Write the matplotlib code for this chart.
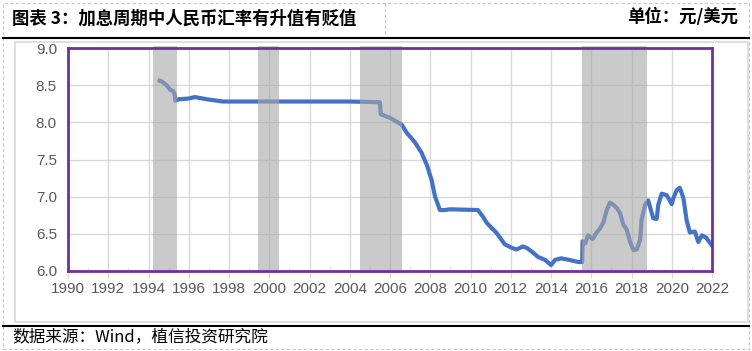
import matplotlib
matplotlib.use("Agg")
import matplotlib.pyplot as plt
from matplotlib.lines import Line2D
from matplotlib.patches import Rectangle

plt.rcParams['font.family'] = ['Noto Sans CJK SC', 'DejaVu Sans']

# USD/CNY (decimal year, rate)
years = [1994.55, 1994.66, 1994.9, 1995.07, 1995.23, 1995.3, 1995.33, 1995.5, 1996.0, 1996.3,
         1996.9, 1997.7, 1998.9, 2000.0, 2002.0, 2004.0, 2005.5, 2005.54, 2006.0, 2006.58,
         2006.83, 2007.24, 2007.57, 2007.84, 2008.07, 2008.24, 2008.48, 2008.72, 2008.98, 2010.37,
         2010.62, 2010.8, 2011.3, 2011.7, 2012.06, 2012.3, 2012.6, 2012.8, 2013.1, 2013.35,
         2013.7, 2014.0, 2014.2, 2014.5, 2014.9, 2015.2, 2015.4, 2015.55, 2015.57, 2015.7,
         2015.84, 2016.07, 2016.27, 2016.43, 2016.6, 2016.77, 2016.93, 2017.1, 2017.26, 2017.43,
         2017.6, 2017.76, 2017.93, 2018.1, 2018.26, 2018.43, 2018.5, 2018.67, 2018.83, 2018.9,
         2019.08, 2019.25, 2019.33, 2019.5, 2019.75, 2020.0, 2020.08, 2020.25, 2020.4, 2020.58,
         2020.74, 2020.9, 2021.15, 2021.32, 2021.5, 2021.7, 2021.98]
rates = [8.56, 8.55, 8.50, 8.44, 8.42, 8.38, 8.29, 8.31, 8.32, 8.34,
         8.31, 8.28, 8.28, 8.28, 8.28, 8.28, 8.27, 8.11, 8.06, 7.97,
         7.86, 7.73, 7.59, 7.42, 7.22, 7.0, 6.82, 6.82, 6.83, 6.82,
         6.73, 6.65, 6.51, 6.36, 6.31, 6.29, 6.33, 6.31, 6.25, 6.19,
         6.15, 6.08, 6.15, 6.17, 6.15, 6.13, 6.12, 6.12, 6.40, 6.37,
         6.48, 6.43, 6.52, 6.57, 6.65, 6.82, 6.92, 6.89, 6.85, 6.78,
         6.62, 6.56, 6.39, 6.28, 6.29, 6.42, 6.69, 6.89, 6.95, 6.88,
         6.71, 6.70, 6.89, 7.04, 7.02, 6.90, 6.98, 7.09, 7.12, 6.98,
         6.68, 6.52, 6.53, 6.39, 6.48, 6.45, 6.35]

# rate-hike periods (shaded)
hike_start = [1994.22, 1999.44, 2004.5, 2015.54]
hike_end = [1995.42, 2000.48, 2006.6, 2018.77]

x_ticks = list(range(1990, 2023, 2))
y_ticks = [6.0, 6.5, 7.0, 7.5, 8.0, 8.5, 9.0]

W, H = 752, 351
fig = plt.figure(figsize=(W / 100, H / 100), dpi=100)


def fx(px):
    return px / W


def fy(py):
    return 1 - py / H


# page frame
fig.add_artist(Rectangle((fx(3), fy(349)), fx(746), 346 / H, fill=False,
                         edgecolor='#c8c8c8', lw=0.8, ls=(0, (3, 2))))
fig.add_artist(Line2D([fx(385), fx(385)], [fy(3), fy(37)], color='#c8c8c8', lw=0.8, ls=(0, (3, 2))))
fig.add_artist(Line2D([fx(3), fx(749)], [fy(37.5), fy(37.5)], color='black', lw=1.5))
fig.add_artist(Rectangle((fx(15), fy(322)), fx(733), 280 / H, fill=False,
                         edgecolor='#d9d9d9', lw=1.2))
fig.add_artist(Line2D([fx(3), fx(749)], [fy(325.5), fy(325.5)], color='black', lw=1.5))

fig.text(fx(12), fy(19), '图表 3：加息周期中人民币汇率有升值有贬值', fontsize=12.5,
         fontweight='bold', va='center', ha='left')
fig.text(fx(738), fy(17), '单位：元/美元', fontsize=12.5, fontweight='bold',
         va='center', ha='right')
fig.text(fx(12), fy(337), '数据来源：Wind，植信投资研究院', fontsize=12,
         va='center', ha='left')

ax = fig.add_axes([fx(68), fy(271), fx(712 - 68), (271 - 48) / H])
ax.plot(years, rates, color='#4472C4', lw=3, solid_joinstyle='round', zorder=2)
for s, e in zip(hike_start, hike_end):
    ax.axvspan(s, e, ymin=-0.01, ymax=1.01, color='#a9a7a9', alpha=0.6, lw=0,
               zorder=3, clip_on=False)

ax.set_xlim(1990, 2022)
ax.set_ylim(6.0, 9.0)
ax.set_xticks(x_ticks)
ax.set_xticks(range(1991, 2022, 2), minor=True)
ax.set_yticks(y_ticks)
ax.set_yticklabels([f'{v:.1f}' for v in y_ticks])
ax.grid(True, color='#d9d9d9', lw=1)
ax.set_axisbelow(True)
for sp in ax.spines.values():
    sp.set_color('#7030A0')
    sp.set_linewidth(2)
    sp.set_zorder(4)
ax.tick_params(axis='x', which='major', length=5, color='#d9d9d9', labelsize=11,
               labelcolor='#595959', pad=3)
ax.tick_params(axis='x', which='minor', length=3, direction='in', color='#d9d9d9')
ax.tick_params(axis='y', length=0, labelsize=11, labelcolor='#595959', pad=8)
for lbl in ax.get_xticklabels() + ax.get_yticklabels():
    lbl.set_fontfamily('Liberation Sans')

fig.savefig('out.png', dpi=100)
